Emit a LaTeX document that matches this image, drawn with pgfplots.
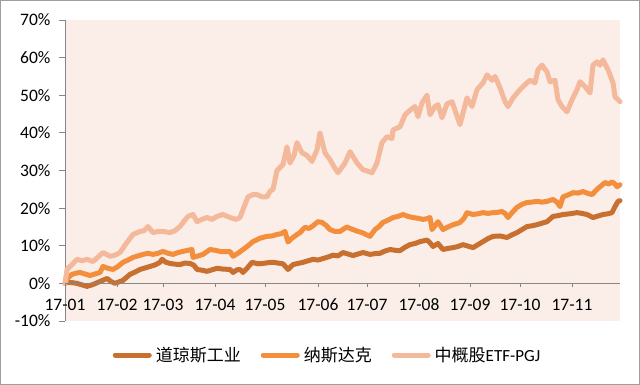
\documentclass[border=0pt]{standalone}
\usepackage{fontspec}
\setmainfont{Carlito}
\newfontfamily\cjk{Noto Sans CJK SC}
\usepackage{pgfplots}
\pgfplotsset{compat=1.18}
\definecolor{dowc}{RGB}{200,112,48}
\definecolor{nasc}{RGB}{242,142,60}
\definecolor{pgjc}{RGB}{244,185,155}
\definecolor{bgpink}{RGB}{251,238,233}
\definecolor{axgray}{RGB}{134,134,134}
\begin{document}
\begin{tikzpicture}
\useasboundingbox (0,0) rectangle (640bp,385bp);
\draw[color=axgray!80, line width=1.2bp] (0.6bp,0.6bp) rectangle (639.4bp,384.4bp);
\begin{axis}[
  at={(65bp,64bp)}, anchor=south west,
  scale only axis, width=555bp, height=301bp,
  xmin=65, xmax=620, ymin=-10, ymax=70,
  enlargelimits=false,
  axis background/.style={fill=bgpink, draw=none},
  axis y line=left, axis x line=none,
  axis line style={-, draw=axgray, line width=0.8bp},
  tick style={draw=axgray, line width=0.9bp},
  tick align=outside,
  major tick length=6bp,
  ytick={-10,0,10,20,30,40,50,60,70},
  yticklabels={-10\%,0\%,10\%,20\%,30\%,40\%,50\%,60\%,70\%},
  ticklabel style={font=\fontsize{17.5bp}{19bp}\selectfont, text=black},
  yticklabel style={xshift=-5bp},
  /pgf/number format/assume math mode=true,
  clip=false,
  every axis plot/.append style={line width=5bp, line join=round, line cap=round},
  legend style={at={(0.473,-0.113)}, anchor=center, draw=none, fill=none,
    font=\fontsize{17bp}{19bp}\selectfont, column sep=2bp,
    /tikz/every even column/.append style={column sep=18bp}},
  legend columns=3,
  legend image code/.code={\draw[#1, line cap=round] (0bp,0bp) -- (34bp,0bp);},
]
\addplot[color=dowc] coordinates {
(65,0)(67,0.3)(72,0.2)(77,0)(82,-0.4)(87,-0.8)(93,-0.3)(100,0.5)(107,1.3)(111,0.5)(115,0)(123,0.8)(130,2.4)(135,3.0)(140,3.7)(145,4.1)(150,4.5)(155,4.9)(160,5.6)(162,6.4)(166,5.6)(170,5.3)(175,5.1)(180,5.0)(185,5.4)(190,5.3)(194,4.8)(197,3.7)(202,3.5)(207,3.2)(212,3.6)(217,4.0)(223,3.8)(230,3.7)(233,2.9)(237,3.6)(240,3.7)(243,2.9)(247,4.0)(252,5.6)(258,5.2)(263,5.3)(268,5.5)(273,5.6)(278,5.4)(283,5.2)(288,3.7)(293,5.0)(298,5.3)(303,5.6)(308,6.0)(313,6.4)(318,6.2)(323,6.6)(328,7.0)(333,7.5)(338,7.3)(343,8.2)(348,7.8)(353,7.4)(358,7.8)(363,8.2)(370,7.7)(375,7.9)(380,8.0)(385,8.6)(390,9.0)(395,8.8)(400,8.7)(405,9.6)(410,10.3)(415,10.6)(420,11.1)(427,11.5)(430,10.8)(433,9.8)(438,10.6)(443,9.0)(448,9.3)(453,9.5)(458,9.8)(463,10.3)(468,9.9)(473,9.5)(478,10.3)(483,11.1)(488,11.9)(493,12.5)(500,12.6)(507,12.2)(512,12.9)(517,13.5)(522,14.3)(527,15.1)(532,15.3)(537,15.6)(542,16.0)(547,16.4)(553,17.8)(558,18.0)(563,18.3)(570,18.5)(577,18.8)(582,18.6)(587,18.3)(593,17.5)(598,17.9)(603,18.3)(608,18.5)(612,18.8)(615,20.4)(618,21.8)(620,22)
};
\addlegendentry{{\cjk 道琼斯工业}}
\addplot[color=nasc] coordinates {
(65,0)(68,1.5)(72,2.4)(76,2.7)(80,2.9)(85,2.5)(90,2.1)(95,2.5)(100,2.9)(103,4.5)(108,4.0)(113,3.7)(118,4.5)(123,5.6)(128,6.2)(133,6.9)(138,7.3)(143,7.7)(148,8.0)(153,7.7)(158,8.0)(163,8.5)(168,8.0)(173,7.7)(178,8.2)(183,8.5)(188,8.8)(192,9.0)(193,6.9)(198,7.3)(203,7.7)(210,9.0)(215,8.8)(220,8.5)(225,8.4)(230,8.5)(233,7.2)(238,8.0)(243,9.0)(248,10.0)(253,11.1)(260,12.0)(267,12.5)(272,12.6)(277,13.0)(281,13.2)(285,13.8)(288,11.0)(292,12.0)(296,12.8)(300,13.5)(305,14.9)(309,14.6)(313,15.3)(318,16.4)(322,16.2)(326,15.4)(330,14.3)(335,13.8)(340,13.8)(344,14.5)(347,15.0)(350,14.6)(353,14.3)(358,13.8)(362,13.5)(366,13.0)(370,12.5)(375,14.3)(379,15.1)(383,16.2)(388,16.8)(393,17.5)(398,17.8)(403,18.3)(408,17.8)(413,17.5)(418,17.3)(423,17.0)(427,17.2)(430,17.5)(432,14.3)(435,15.3)(438,16.4)(443,14.3)(448,15.0)(453,15.6)(457,15.9)(460,16.2)(464,17.3)(467,18.8)(473,18.3)(478,18.5)(483,18.8)(488,18.6)(493,18.8)(498,18.9)(502,19.1)(505,18.6)(508,17.5)(512,18.8)(517,20.2)(522,21.0)(527,21.5)(532,21.6)(537,21.8)(542,21.6)(547,21.8)(553,22.3)(557,21.6)(560,20.4)(563,23)(568,23.5)(573,24.1)(578,24.0)(583,24.4)(588,23.9)(592,23.6)(597,25)(601,25.9)(605,26.8)(609,26.4)(612,27)(615,26.4)(617,25.7)(620,26.2)
};
\addlegendentry{{\cjk 纳斯达克}}
\addplot[color=pgjc] coordinates {
(65,0)(67,3.7)(72,5.0)(77,6.4)(82,6.0)(87,6.4)(93,5.8)(98,7.0)(103,8.2)(110,7.2)(115,7.5)(120,8.2)(127,10.9)(133,13)(140,13.8)(144,14.0)(148,15.1)(153,13.5)(158,13.8)(163,13.8)(170,13.5)(175,14.0)(180,15.1)(184,16.5)(188,17.8)(193,18.3)(197,16.4)(202,17.0)(207,17.5)(212,17.0)(217,17.8)(223,18.3)(230,17.5)(236,17.0)(240,17.5)(243,19.6)(248,23)(253,23.6)(257,23.6)(262,23.0)(267,23)(270,24.5)(273,25)(277,30)(283,31.6)(287,36.3)(290,32)(294,34)(297,37.4)(302,34.7)(307,34)(312,32.4)(317,35.5)(320,40)(325,34.7)(330,32.9)(334,31)(338,29.4)(345,32)(350,35)(357,32)(363,30.2)(368,29.8)(372,29.4)(377,32)(382,37.4)(387,39)(392,38.5)(393,40.8)(400,41.6)(405,44.8)(410,46)(415,47)(418,44.3)(422,48)(427,50)(430,44.8)(435,47)(438,47.5)(442,44)(447,47.7)(452,48.3)(455,46)(460,42.2)(467,49.3)(472,47)(477,51.5)(483,53.3)(487,55.4)(492,54)(495,55)(500,52)(505,48.3)(508,47)(513,49.3)(520,51.5)(525,52.8)(530,54)(535,53.3)(538,56.8)(542,58)(547,56.2)(550,53.6)(555,54)(558,48.8)(562,47)(567,45.6)(572,48.8)(577,51.5)(580,53.6)(585,52.3)(590,50.6)(593,58)(597,58.9)(600,58)(603,59.4)(608,56.8)(613,53.3)(615,49.6)(620,48.3)
};
\addlegendentry{{\cjk 中概股}ETF-PGJ}
\end{axis}
% x axis at the 0% level: a second axis sharing the horizontal scale
\begin{axis}[
  at={(65bp,101.6bp)}, anchor=south west,
  scale only axis, width=555bp, height=263.4bp,
  xmin=65, xmax=620, ymin=0, ymax=70,
  enlargelimits=false,
  axis x line=bottom, axis y line=none,
  axis line style={-, draw=axgray, line width=0.8bp},
  tick style={draw=axgray, line width=0.9bp},
  tick align=outside,
  major tick length=4bp,
  xtick={65,117,163,215,265,318,367,419,470,520,572},
  xticklabels={17-01,17-02,17-03,17-04,17-05,17-06,17-07,17-08,17-09,17-10,17-11},
  ticklabel style={font=\fontsize{17.5bp}{19bp}\selectfont, text=black},
  xticklabel style={yshift=-8bp},
  /pgf/number format/assume math mode=true,
]
\end{axis}
\end{tikzpicture}
\end{document}
